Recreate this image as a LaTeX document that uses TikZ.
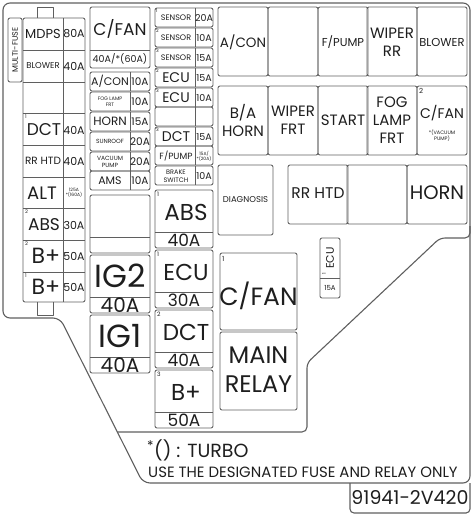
\documentclass[tikz,border=0pt]{standalone}
\usepackage{fontspec}
\setmainfont{Poppins}
\usepackage{tikz}

\definecolor{linegray}{RGB}{95,95,95}
\definecolor{textblack}{RGB}{30,30,30}
\newcommand{\fs}[1]{\fontsize{#1}{#1}\selectfont\baselineskip=1.2\baselineskip}

\tikzset{
  frame/.style={draw=linegray, line width=0.9pt},
  box/.style={frame, rounded corners=2pt},
  txt/.style={inner sep=0pt, text=textblack, align=center},
  num/.style={txt, font=\fs{5}, anchor=north west},
}

\begin{document}
\begin{tikzpicture}[x=1pt, y=-1pt, line join=round]
    \useasboundingbox (0,0) rectangle (474,517);
    % housing
    \draw[frame, line width=1.1pt, rounded corners=7pt] (60,318) -- (3,318) -- (3,3) -- (470,3) -- (470,483) -- (143,483) -- cycle;
    \draw[frame, line width=1.1pt, rounded corners=5pt] (470,226) -- (470,238) -- (440,238) -- (307,363) -- (307,432) -- (117.3,432);
    \draw[frame, line width=1.1pt, rounded corners=4pt] (350,483) -- (350,513) -- (470,513) -- (470,483);
    \draw[frame] (37,18) -- (37,7) -- (53,7) -- (53,18);
    \draw[frame] (37,302) -- (37,315) -- (53,315) -- (53,302);

    % multi-fuse
    \draw[box] (8,18) rectangle (22,82);
    \node[txt, rotate=90, font=\fs{8}] (multifuse) at (15,50) {MULTI-FUSE};
    \draw[box] (23,18) rectangle (85,302);
    \draw[frame] (63,18) -- (63,302);
    \foreach \y in {50,82,113,145,177,208,240,272}
        \draw[frame] (23,\y) -- (85,\y);
    \node[txt, font=\fs{13}] (mdps) at (43,34) {MDPS};
    \node[txt, font=\fs{11}] (mdpsamp) at (74,34) {80A};
    \node[txt, font=\fs{8.5}] (blowerm) at (43,66) {BLOWER};
    \node[txt, font=\fs{11}] (blowermamp) at (74,66) {40A};
    \node[num] (dctmnum) at (25,115) {1};
    \node[txt, font=\fs{17}] (dctm) at (44,130) {DCT};
    \node[txt, font=\fs{11}] (dctmamp) at (74,130) {40A};
    \node[txt, font=\fs{10.5}] (rrhtdm) at (43,161) {RR HTD};
    \node[txt, font=\fs{11}] (rrhtdmamp) at (74,161) {40A};
    \node[txt, font=\fs{18}] (alt) at (42,193) {ALT};
    \node[txt, font=\fs{4.5}] (altamp) at (74,193) {125A\\*(160A)};
    \node[num] (absmnum) at (25,210) {2};
    \node[txt, font=\fs{17}] (absm) at (44,225) {ABS};
    \node[txt, font=\fs{11}] (absmamp) at (74,225) {30A};
    \node[num] (bpanum) at (25,242) {2};
    \node[txt, font=\fs{22}] (bpa) at (46,256) {B+};
    \node[txt, font=\fs{11}] (bpaamp) at (74,256) {50A};
    \node[num] (bpbnum) at (25,274) {1};
    \node[txt, font=\fs{22}] (bpb) at (46,287) {B+};
    \node[txt, font=\fs{11}] (bpbamp) at (74,287) {50A};

    % second column
    \draw[box] (90,7) rectangle (150,68);
    \draw[frame] (90,50) -- (150,50);
    \node[txt, font=\fs{17}] (cfana) at (120,29) {C/FAN};
    \node[txt, font=\fs{9.5}] (cfanaamp) at (120,59) {40A/*(60A)};
    \foreach \y/\name/\sz/\amp in {72/{A/CON}/11/10A, 92/{FOG LAMP\\FRT}/5/10A,
        112/HORN/12/15A, 132/SUNROOF/6/20A, 152/{VACUUM\\PUMP}/6/20A, 171/AMS/11/10A}{
        \draw[box] (90,\y) rectangle (150,\y+19);
        \draw[frame] (130,\y) -- (130,\y+19);
        \node[txt, font=\fs{\sz}] (fa\y) at (110,\y+9.5) {\name};
        \node[txt, font=\fs{10.5}] (fa\y amp) at (140,\y+9.5) {\amp};
      }
    \draw[box] (90,195) rectangle (150,253);
    \draw[frame] (90,237) -- (150,237);
    \foreach \y/\name in {255/IG2, 315/IG1}{
        \draw[box] (90,\y) rectangle (150,\y+58);
        \draw[frame] (90,\y+42) -- (150,\y+42);
        \node[txt, font=\fs{32}] (big\y) at (120,\y+21) {\name};
        \node[txt, font=\fs{20}] (big\y amp) at (120,\y+50) {40A};
      }

    % third column
    \foreach \y/\n/\name/\sz/\amp/\asz in {8/1/SENSOR/8/20A/9.5, 28/2/SENSOR/8/10A/9.5,
        48/3/SENSOR/8/15A/9.5, 68/2/ECU/14/15A/9.5, 88/3/ECU/14/10A/9.5, 107/{}/{}/8/{}/8,
        127/3/DCT/14/15A/9.5, 146/{}/{F/PUMP}/9/{15A/\\*(20A)}/4.5, 166/{}/{BRAKE\\SWITCH}/6.5/10A/9.5}{
        \draw[box] (155,\y) rectangle (213,\y+19);
        \draw[frame] (195,\y) -- (195,\y+19);
        \node[num, font=\fs{4.5}] (fb\y num) at (156,\y+1) {\n};
        \node[txt, font=\fs{\sz}] (fb\y) at (176,\y+10) {\name};
        \node[txt, font=\fs{\asz}] (fb\y amp) at (204,\y+10) {\amp};
      }
    \foreach \y/\n/\name/\amp in {190/1/ABS/40A, 250/1/ECU/30A, 310/2/DCT/40A, 370/3/B+/50A}{
        \draw[box] (155,\y) rectangle (213,\y+58);
        \draw[frame] (155,\y+42) -- (213,\y+42);
        \node[num, font=\fs{6}] (mx\y num) at (157,\y+2) {\n};
        \node[txt, font=\fs{23}] (mx\y) at (186,\y+22) {\name};
        \node[txt, font=\fs{17}] (mx\y amp) at (184,\y+50) {\amp};
      }

    % relays
    \foreach \x/\name/\sz in {218/{A/CON}/13.5, 268/{}/12, 318/{F/PUMP}/11.5,
        367/{WIPER\\RR}/15, 417/BLOWER/11.5}{
        \draw[box] (\x,7) rectangle (\x+50,76);
        \node[txt, font=\fs{\sz}] (ra\x) at (\x+25,42) {\name};
      }
    \foreach \x/\name/\sz in {218/{B/A\\HORN}/15, 268/{WIPER\\FRT}/15, 318/START/15,
        367/{FOG\\LAMP\\FRT}/15, 417/{}/15}{
        \draw[box] (\x,86) rectangle (\x+50,155);
        \node[txt, font=\fs{\sz}] (rb\x) at (\x+25,120) {\name};
      }
    \node[num, font=\fs{7}] (cfanbnum) at (419,88) {2};
    \node[txt, font=\fs{14}] (cfanb) at (442,113) {C/FAN};
    \node[txt, font=\fs{5}] (cfanbvac) at (442,136) {*(VACUUM\\PUMP)};

    \draw[box] (218,165) rectangle (273,235);
    \node[txt, font=\fs{8.5}] (diag) at (245.5,200) {DIAGNOSIS};
    \foreach \x/\name/\sz in {288/{RR HTD}/15.5, 347/{}/15, 407/HORN/19.5}{
        \draw[box] (\x,165) rectangle (\x+60,224);
        \node[txt, font=\fs{\sz}] (rc\x) at (\x+30,193) {\name};
      }

    \draw[box] (320,238) rectangle (340,298);
    \draw[frame] (320,278) -- (340,278);
    \node[txt, rotate=90, font=\fs{11}] (ecuv) at (330,258) {ECU};
    \node[txt, rotate=90, font=\fs{5}] (ecuvnum) at (324,274) {1};
    \node[txt, font=\fs{7}] (ecuvamp) at (330,288) {15A};

    \draw[box] (220,253) rectangle (297,330);
    \node[num, font=\fs{7}] (cfancnum) at (222,256) {1};
    \node[txt, font=\fs{25}] (cfanc) at (258.5,296) {C/FAN};
    \draw[box] (220,332) rectangle (297,410);
    \node[txt, font=\fs{24}] (mainrelay) at (258.5,370) {MAIN\\RELAY};

    % notes
    \node[txt, font=\fs{19}, anchor=west] (turbo) at (147,450) {\textsuperscript{*}() : TURBO};
    \node[txt, font=\fs{14.9}, anchor=west] (notice) at (148,472) {USE THE DESIGNATED FUSE AND RELAY ONLY};
    \node[txt, font=\fs{19}] (partno) at (410,498) {91941-2V420};
  \end{tikzpicture}
\end{document}
